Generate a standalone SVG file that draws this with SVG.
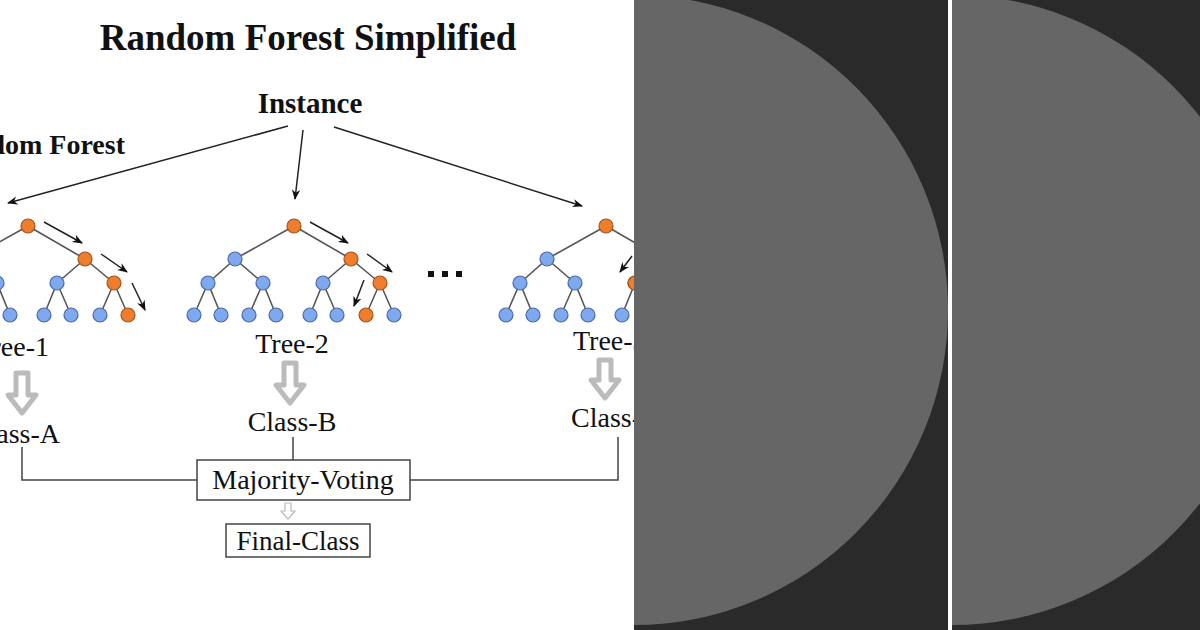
<svg xmlns="http://www.w3.org/2000/svg" width="1200" height="630" viewBox="0 0 1200 630">
<defs>
<style>
.t{font-family:"Liberation Serif",serif;fill:#111}
.b{font-weight:bold}
.e{stroke:#555;stroke-width:1.6}
.bl{fill:#7fa9ee;stroke:#4a6aa8;stroke-width:1.2}
.or{fill:#ee7d2e;stroke:#a5531c;stroke-width:1.2}
.ar{stroke:#222;stroke-width:1.5;fill:none;marker-end:url(#ah)}
.ln{stroke:#444;stroke-width:1.5;fill:none}
.hol{fill:#fff;stroke:#bbb;stroke-width:5;stroke-linejoin:round}
</style>
<marker id="ah" viewBox="0 0 10 10" refX="9" refY="5" markerWidth="7" markerHeight="7" orient="auto"><path d="M0,1 L10,5 L0,9 L3,5 z" fill="#111"/></marker>
<g id="tree">
<g class="e">
<line x1="294" y1="226" x2="235" y2="259"/><line x1="294" y1="226" x2="351" y2="259"/>
<line x1="235" y1="259" x2="208" y2="283"/><line x1="235" y1="259" x2="263" y2="283"/>
<line x1="351" y1="259" x2="323" y2="283"/><line x1="351" y1="259" x2="380" y2="283"/>
<line x1="208" y1="283" x2="194" y2="315"/><line x1="208" y1="283" x2="221" y2="315"/>
<line x1="263" y1="283" x2="249" y2="315"/><line x1="263" y1="283" x2="276" y2="315"/>
<line x1="323" y1="283" x2="310" y2="315"/><line x1="323" y1="283" x2="337" y2="315"/>
<line x1="380" y1="283" x2="366" y2="315"/><line x1="380" y1="283" x2="394" y2="315"/>
</g>
<circle class="bl" cx="235" cy="259" r="7"/>
<circle class="bl" cx="208" cy="283" r="7"/><circle class="bl" cx="263" cy="283" r="7"/><circle class="bl" cx="323" cy="283" r="7"/>
<circle class="bl" cx="194" cy="315" r="7"/><circle class="bl" cx="221" cy="315" r="7"/><circle class="bl" cx="249" cy="315" r="7"/><circle class="bl" cx="276" cy="315" r="7"/><circle class="bl" cx="310" cy="315" r="7"/><circle class="bl" cx="337" cy="315" r="7"/>
</g>
</defs>
<rect width="1200" height="630" fill="#fff"/>
<text class="t b" x="308" y="50" font-size="37" text-anchor="middle">Random Forest Simplified</text>
<g id="instance"><text class="t b" x="310" y="113" font-size="29" text-anchor="middle">Instance</text></g>
<text class="t b" x="125" y="154" font-size="28" text-anchor="end">Random Forest</text>

<g id="connectors">
<line class="ar" x1="288" y1="126" x2="8" y2="203"/>
<line class="ar" x1="303" y1="130" x2="295" y2="199"/>
<line class="ar" x1="334" y1="127" x2="582" y2="206"/>
<path class="ln" d="M22,447 V480 H197 M293,437 V460 M618,437 V480 H410"/>
<path class="hol" d="M16,373 h12 v22 h8 l-14,18 l-14,-18 h8 z"/>
<path class="hol" d="M284,363 h12 v22 h8 l-14,18 l-14,-18 h8 z"/>
<path class="hol" d="M599,360 h12 v20 h8 l-14,18 l-14,-18 h8 z"/>
<path d="M285,503 h6 v8 h4 l-7,8 l-7,-8 h4 z" fill="#fff" stroke="#bbb" stroke-width="1.2"/>
</g>

<g id="tree-1">
<use href="#tree" x="-266"/>
<circle class="or" cx="28" cy="226" r="7"/><circle class="or" cx="85" cy="259" r="7"/><circle class="or" cx="114" cy="283" r="7"/>
<circle class="bl" cx="100" cy="315" r="7"/><circle class="or" cx="128" cy="315" r="7"/>
<line class="ar" x1="44" y1="222" x2="82" y2="243"/><line class="ar" x1="101" y1="254" x2="127" y2="272"/><line class="ar" x1="132" y1="283" x2="145" y2="310"/>
<text class="t" x="49" y="356" font-size="28" text-anchor="end">Tree-1</text>
<text class="t" x="60" y="443" font-size="28" text-anchor="end">Class-A</text>
</g>
<g id="tree-2">
<use href="#tree"/>
<circle class="or" cx="294" cy="226" r="7"/><circle class="or" cx="351" cy="259" r="7"/><circle class="or" cx="380" cy="283" r="7"/>
<circle class="or" cx="366" cy="315" r="7"/><circle class="bl" cx="394" cy="315" r="7"/>
<line class="ar" x1="310" y1="222" x2="348" y2="243"/><line class="ar" x1="367" y1="254" x2="392" y2="272"/><line class="ar" x1="364" y1="280" x2="354" y2="306"/>
<text class="t" x="292" y="353" font-size="28" text-anchor="middle">Tree-2</text>
<text class="t" x="292" y="431" font-size="28" text-anchor="middle">Class-B</text>
</g>
<g fill="#111"><rect x="428" y="271" width="6" height="6"/><rect x="442" y="271" width="6" height="6"/><rect x="456" y="271" width="6" height="6"/></g>
<g id="tree-3">
<use href="#tree" x="312"/>
<circle class="or" cx="606" cy="226" r="7"/><circle class="or" cx="635" cy="283" r="7"/>
<line class="ar" x1="632" y1="256" x2="620" y2="272"/>
<text class="t" x="573" y="350" font-size="28">Tree-3</text>
<text class="t" x="571" y="427" font-size="28">Class-C</text>
</g>
<g id="majority">
<rect x="197" y="460" width="213" height="40" fill="#fff" stroke="#444" stroke-width="1.5"/>
<text class="t" x="303" y="489" font-size="28" text-anchor="middle">Majority-Voting</text>
</g>
<g id="final">
<rect x="226" y="524" width="144" height="33" fill="#fff" stroke="#444" stroke-width="1.5"/>
<text class="t" x="298" y="550" font-size="27" text-anchor="middle">Final-Class</text>
</g>

<rect x="634" y="0" width="314" height="630" fill="#2a2a2a"/>
<rect x="952" y="0" width="248" height="630" fill="#2a2a2a"/>
<clipPath id="c1"><rect x="634" y="0" width="314" height="630"/></clipPath>
<clipPath id="c2"><rect x="952" y="0" width="248" height="630"/></clipPath>
<ellipse cx="634" cy="310" rx="314" ry="315" fill="#666" clip-path="url(#c1)"/>
<ellipse cx="952" cy="310" rx="314" ry="315" fill="#666" clip-path="url(#c2)"/>
</svg>
